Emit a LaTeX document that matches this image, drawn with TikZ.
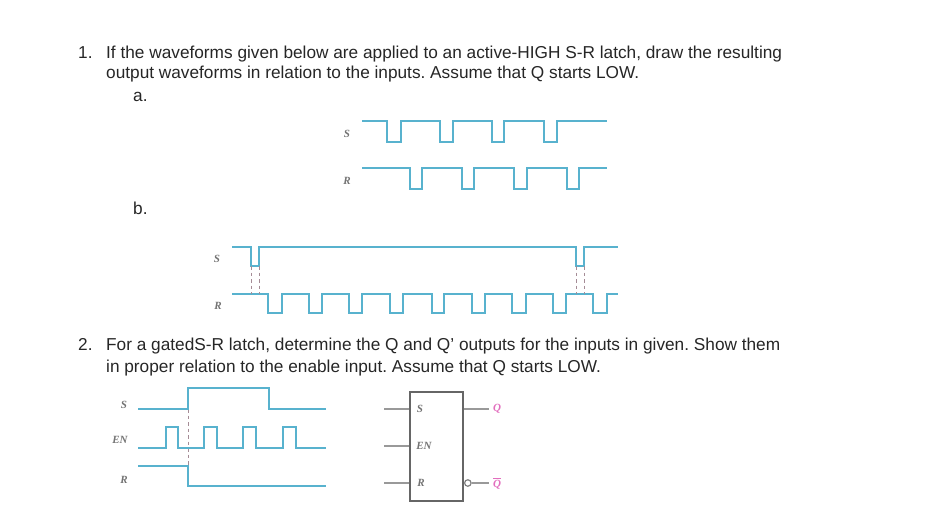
\documentclass[tikz,border=0pt]{standalone}
\usepackage{fontspec}
\setmainfont{Liberation Sans}
\newfontfamily\labelfont{Liberation Serif}
\frenchspacing
\definecolor{wavecyan}{RGB}{88,178,206}
\definecolor{labelgrey}{RGB}{115,115,115}
\definecolor{guidegrey}{RGB}{165,140,150}
\definecolor{pinkq}{RGB}{226,110,190}
\tikzset{
    question/.style = {anchor=base west, inner sep=0pt, font=\fontsize{17.25}{19}\selectfont, text=black!85},
    wave/.style     = {draw=wavecyan, line width=1.7pt, line join=miter},
    guide/.style    = {draw=guidegrey, line width=1pt, dash pattern=on 3.5pt off 3pt},
    siglabel/.style = {inner sep=0pt, font=\labelfont\itshape\bfseries\fontsize{11}{12}\selectfont, text=labelgrey},
    pin/.style      = {draw=black!40, line width=1.3pt},
}
\begin{document}
\begin{tikzpicture}[x=1pt, y=-1pt]
    \useasboundingbox (0,0) rectangle (942,517);
    % text
    \node[question] (numa) at (78,58) {1.};
    \node[question] (qa1) at (106,58) {If the waveforms given below are applied to an active-HIGH S-R latch, draw the resulting};
    \node[question] (qa2) at (106,78) {output waveforms in relation to the inputs. Assume that Q starts LOW.};
    \node[question] (parta) at (133,101) {a.};
    \node[question] (partb) at (133,214) {b.};
    \node[question] (numb) at (78,350) {2.};
    \node[question] (qb1) at (106,350) {For a gatedS-R latch, determine the Q and Q' outputs for the inputs in given. Show them};
    \node[question] (qb2) at (106,372) {in proper relation to the enable input. Assume that Q starts LOW.};
    % part a
    \node[siglabel] (sa) at (347,134) {S};
    \node[siglabel] (ra) at (347,181) {R};
    \draw[wave] (362,121) foreach \a/\b in {387/401,440/453,492/504,544/557}
        { -- (\a,121) -- (\a,142) -- (\b,142) -- (\b,121) } -- (607,121);
    \draw[wave] (362,168) foreach \a/\b in {410/422,462/474,514/527,567/579}
        { -- (\a,168) -- (\a,189) -- (\b,189) -- (\b,168) } -- (607,168);
    % part b
    \node[siglabel] (sb) at (217,259) {S};
    \node[siglabel] (rb) at (218,306) {R};
    \draw[wave] (232,247) foreach \a/\b in {251/259,576/584}
        { -- (\a,247) -- (\a,266) -- (\b,266) -- (\b,247) } -- (618,247);
    \draw[wave] (232,294) foreach \a/\b in {268/282,309/322,349/362,390/403,432/444,472/485,512/526,553/566,593/607}
        { -- (\a,294) -- (\a,313) -- (\b,313) -- (\b,294) } -- (618,294);
    \foreach \a in {251,259,576,584}
        \draw[guide] (\a,266) -- (\a,294);
    % part 2 waveforms
    \node[siglabel] (sc) at (124,405) {S};
    \node[siglabel] (enc) at (120,440) {EN};
    \node[siglabel] (rc) at (124,480) {R};
    \draw[guide] (188,409) -- (188,466);
    \draw[wave] (138,409) -- (188,409) -- (188,388) -- (269,388) -- (269,409) -- (326,409);
    \draw[wave] (138,448) foreach \a/\b in {166/178,204/217,243/256,283/296}
        { -- (\a,448) -- (\a,427) -- (\b,427) -- (\b,448) } -- (326,448);
    \draw[wave] (138,466) -- (188,466) -- (188,486) -- (326,486);
    % latch block
    \node[draw=black!60, line width=1.5pt, minimum width=53pt, minimum height=109pt, inner sep=0pt] (latch) at (436.5,446.5) {};
    \node[siglabel] (ls) at (420,409) {S};
    \node[siglabel] (len) at (424,446) {EN};
    \node[siglabel] (lr) at (421,483) {R};
    \coordinate (ins) at (384,409);
    \coordinate (inen) at (384,446);
    \coordinate (inr) at (384,483);
    \draw[pin] (ins) -- (ins -| latch.west);
    \draw[pin] (inen) -- (inen -| latch.west);
    \draw[pin] (inr) -- (inr -| latch.west);
    \node[siglabel, text=pinkq, outer sep=4pt] (outq) at (497,409) {Q};
    \node[siglabel, text=pinkq, outer sep=4pt, anchor=base] (outnq) at (497,487) {$\overline{\mbox{Q}}$};
    \node[circle, draw=black!50, line width=1.2pt, minimum size=6.5pt, inner sep=0pt, anchor=west] (bubble) at (464,483) {};
    \draw[pin] (outq -| latch.east) -- (outq.west);
    \draw[pin] (bubble) -- (outnq.west |- bubble);
\end{tikzpicture}
\end{document}
